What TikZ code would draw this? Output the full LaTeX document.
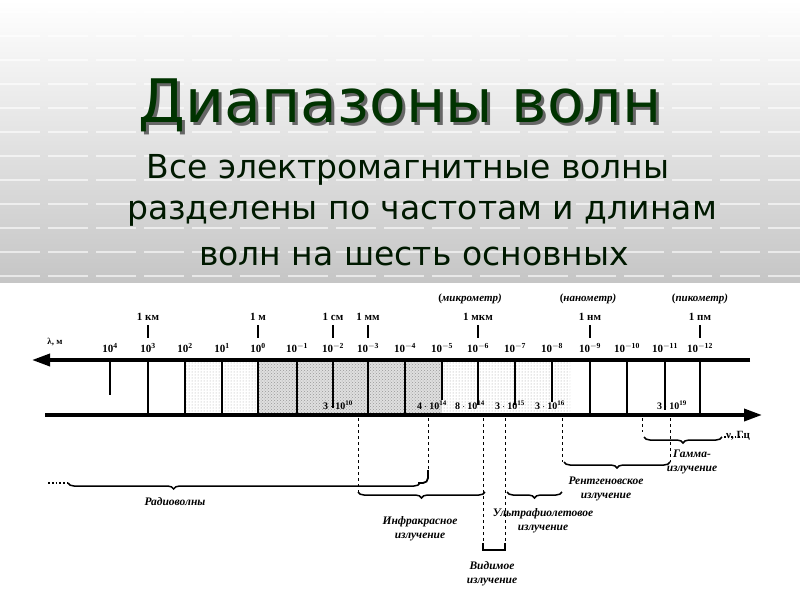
\documentclass[tikz,border=0pt]{standalone}
\usepackage{fontspec}
\setmainfont{Liberation Serif}
\newfontfamily\titlefont{DejaVu Sans}
\usetikzlibrary{arrows.meta,patterns,decorations.pathreplacing}

\begin{document}
\begin{tikzpicture}[x=1pt, y=-1pt,
        axis/.style={line width=3.5pt, -{Triangle[length=18pt,width=12pt]}},
        tick/.style={line width=1.2pt},
        wl/.style={font=\fontsize{11}{11}\selectfont\bfseries, inner sep=1pt},
        fr/.style={font=\fontsize{10}{10}\selectfont\bfseries, inner sep=1pt},
        band/.style={font=\fontsize{11.5}{14}\selectfont\itshape\bfseries, align=center, inner sep=1pt},
        cut/.style={dashed, line width=1pt},
        brace/.style={line width=1.5pt, decorate, decoration={brace, mirror, amplitude=6pt}},
        sub/.style={font=\titlefont\fontsize{33}{33}\selectfont, text=black!90!green},
    ]
        \useasboundingbox (0,0) rectangle (800,600);
        % background of the slide
        \shade[top color=white, bottom color=gray!45] (0,0) rectangle (800,282);
        \foreach \y in {12,36,...,276}
            \draw[white, opacity=0.6, line width=1.5pt, dash pattern=on 40pt off 8pt] (0,\y) -- (800,\y);
        \node[font=\titlefont\fontsize{60}{60}\selectfont, text=black!60] (shadow) at (403,108) {Диапазоны волн};
        \node[font=\titlefont\fontsize{60}{60}\selectfont, text=green!20!black] (title) at (400,105) {Диапазоны волн};
        \node[sub] (line1) at (408,170) {Все электромагнитные волны};
        \node[sub] (line2) at (422,214) {разделены по частотам и длинам};
        \node[sub] (line3) at (414,256) {волн на шесть основных};

        % stippled band between the axes
        \fill[pattern=dots, pattern color=gray!70] (185,362) rectangle (258,413);
        \fill[gray!25] (258,362) rectangle (442,413);
        \fill[pattern=crosshatch dots, pattern color=gray!80] (258,362) rectangle (442,413);
        \fill[pattern=dots, pattern color=gray!80] (442,362) rectangle (570,413);

        % axes
        \coordinate (lamR) at (750,360);
        \coordinate (lamL) at (32,360);
        \coordinate (nuL) at (45,415);
        \coordinate (nuR) at (762,415);
        \draw[axis] (lamR) -- (lamL);
        \draw[axis] (nuL) -- (nuR);
        \node[wl, font=\fontsize{9}{9}\selectfont\bfseries] (lam) at (55,342) {λ, м};
        \node[wl] (nu) at (738,436) {ν, Гц};

        % wavelength scale
        \foreach \x/\e/\b in {110/4/395, 148/3/415, 185/2/415, 222/1/415, 258/0/415, 297/-1/415,
                333/-2/408, 368/-3/415, 405/-4/415, 442/-5/400, 478/-6/405, 515/-7/405,
                552/-8/402, 590/-9/415, 627/-10/415, 665/-11/410, 700/-12/415} {
            \node[wl] (p\x) at (\x,348) {$\mathbf{10^{\e}}$};
            \draw[tick] (\x,360) -- (\x,\b);
        }
        \foreach \x/\u in {148/1 км, 258/1 м, 333/1 см, 368/1 мм, 478/1 мкм, 590/1 нм, 700/1 пм} {
            \node[wl] (u\x) at (\x,317) {\u};
            \draw[tick] (u\x.south) ++(0,3) -- (\x,338);
        }
        \node[wl] (mkm) at (470,299) {(\itshape микрометр)};
        \node[wl] (nm) at (588,299) {(\itshape нанометр)};
        \node[wl] (pm) at (700,299) {(\itshape пикометр)};

        % frequency scale
        \foreach \x/\t in {338/3\cdot10^{10}, 432/4\cdot10^{14}, 470/8\cdot10^{14}, 510/3\cdot10^{15}, 550/3\cdot10^{16}, 672/3\cdot10^{19}}
            \node[fr] (f\x) at (\x,405) {$\mathbf{\t}$};

        % band borders
        \draw[cut] (358,418) -- (358,492);
        \draw[cut] (428,418) -- (428,470);
        \draw[cut] (483,418) -- (483,543);
        \draw[cut] (505,418) -- (505,543);
        \draw[cut] (562,418) -- (562,462);
        \draw[cut] (642,418) -- (642,432);
        \draw[cut] (670,418) -- (670,462);
        \draw[line width=1.2pt] (483,543) -- (483,550) -- (505,550) -- (505,543);

        % radio waves
        \draw[line width=1.8pt, dotted] (48,483) -- (68,483);
        \draw[brace, decoration={aspect=0.3}] (68,483) -- (420,483);
        \draw[line width=1.8pt, rounded corners=5pt] (418,483) -- (428,483) -- (428,470);
        \node[band] (radio) at (175,502) {Радиоволны};
        % infrared
        \draw[brace] (358,492) -- (485,492);
        \node[band] (ir) at (420,529) {Инфракрасное\\излучение};
        % visible
        \node[band] (vis) at (492,574) {Видимое\\излучение};
        % ultraviolet
        \draw[brace] (507,492) -- (562,492);
        \node[band] (uv) at (543,521) {Ультрафиолетовое\\излучение};
        % x-rays
        \draw[brace] (564,462) -- (670,462);
        \node[band] (xray) at (606,489) {Рентгеновское\\излучение};
        % gamma
        \draw[brace] (644,437) -- (722,437);
        \draw[line width=1.5pt, dotted] (724,437) -- (742,437);
        \node[band] (gamma) at (692,462) {Гамма-\\излучение};
\end{tikzpicture}
\end{document}
